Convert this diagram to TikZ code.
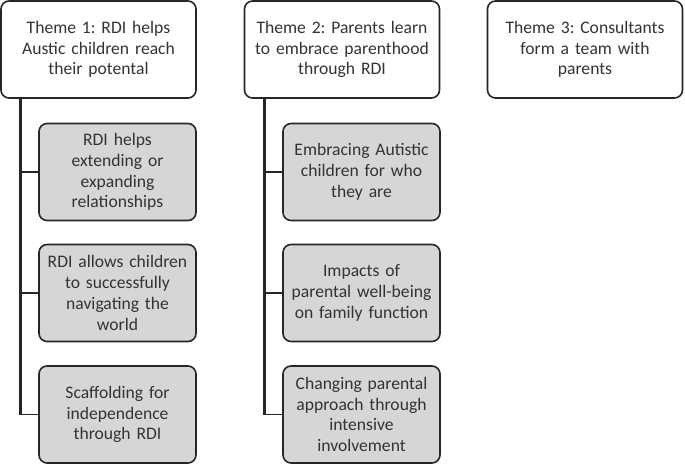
\documentclass[tikz,border=0pt]{standalone}
\usepackage{fontspec}
\setmainfont{Carlito}
\begin{document}
\frenchspacing
\begin{tikzpicture}[x=1pt,y=-1pt,
  box/.style={draw=black!85, line width=1.6pt, rounded corners=8pt, minimum width=195pt, minimum height=97pt, text width=188pt, align=center, font=\fontsize{17.6}{20.8}\selectfont, text=black!80, inner sep=0pt},
  theme/.style={box, fill=white},
  sub/.style={box, fill=black!16, minimum width=157pt, text width=154pt},
  conn/.style={draw=black!85, line width=1.7pt}]
\useasboundingbox (0,0) rectangle (685,465);
\node[theme] (t1) at (98.5,49.5) {Theme 1: RDI helps\\Austic children reach\\their potental};
\node[theme] (t2) at (342,49.5) {Theme 2: Parents learn\\to embrace parenthood\\through RDI};
\node[theme] (t3) at (585,49.5) {Theme 3: Consultants\\form a team with\\parents};
\node[sub] (a1) at (117.5,172) {RDI helps\\extending or\\expanding\\relationships};
\node[sub] (a2) at (117.5,293) {RDI allows children\\to successfully\\navigating the\\world};
\node[sub] (a3) at (117.5,414.5) {Scaffolding for\\independence\\through RDI};
\node[sub] (b1) at (361.5,172) {Embracing Autistic\\children for who\\they are};
\node[sub] (b2) at (361.5,293) {Impacts of\\parental well-being\\on family function};
\node[sub] (b3) at (361.5,414.5) {Changing parental\\approach through\\intensive\\involvement};
\coordinate (v1) at (20.5,0);
\coordinate (v2) at (264.5,0);
\draw[conn, line width=2.4pt] (t1.south -| v1) -- (v1 |- a3.west);
\draw[conn] (v1 |- a3.west) -- (a3.west);
\draw[conn] (v1 |- a1.west) -- (a1.west);
\draw[conn] (v1 |- a2.west) -- (a2.west);
\draw[conn, line width=2.4pt] (t2.south -| v2) -- (v2 |- b3.west);
\draw[conn] (v2 |- b3.west) -- (b3.west);
\draw[conn] (v2 |- b1.west) -- (b1.west);
\draw[conn] (v2 |- b2.west) -- (b2.west);
\end{tikzpicture}
\end{document}
